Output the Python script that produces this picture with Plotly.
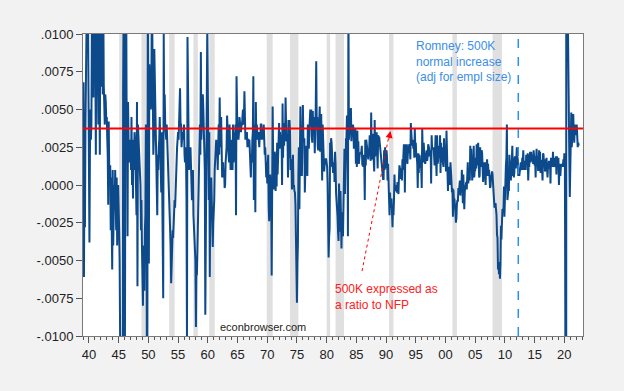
import pandas as pd
import plotly.graph_objects as go

# Monthly log change in nonfarm payroll employment, in ten-thousandths (1e-4)
# 1939 Feb - 1949 Dec
growth_1939_1949 = [
    68, -61, 10, -28, 40, 100, 70, 130, 160, 120, 30,
    17, -38, 20, 50, 30, 40, 110, 150, 120, 58, 130, 90,
    150, 75, 20, 130, 80, 110, 75, 40, 120, 65, 20, 130,
    110, 65, 130, 100, 60, 120, 66, 50, 40, 60, 55, 42,
    45, 30, 20, -13, 42, 10, 0, 13, -30, 5, -20, -56,
    10, -40, -20, 0, -15, 10, -5, -30, 5, -40, -20, 0,
    -10, -30, -50, -80, -150, -200, -110, -500, -400, 60, 120, 80,
    -200, -50, 300, 150, 58, 40, -34, 55, 30, 20, 15, 30,
    25, 10, 45, 0, 20, -9, 30, 10, 35, 30, 20, -5,
    -20, 55, -67, 40, 30, 20, 20, 10, 0, -30, -10, -40,
    -60, -80, -40, -50, -70, -30, -20, 40, 20, -120, -100, 150,
]
growth_1950s = [
    20, -52, 80, 60, 70, 50, 60, 120, 100, 60, 20, 30,
    90, 70, 40, 20, 15, 0, -20, 20, 10, 25, 30, 45,
    20, 30, -5, 35, 5, -15, -75, 100, 45, 60, 40, 30,
    30, 40, 30, 25, 10, 5, -5, -20, -30, -40, -65, -45,
    -50, -30, -35, -25, -20, -10, -15, 0, 10, 20, 25, 30,
    35, 30, 45, 50, 64, 40, 40, 25, 30, 35, 30, 35,
    40, 20, 15, 25, 20, -10, -105, 98, 40, 15, 10, 20,
    15, 25, 10, 5, -10, -5, 10, -20, -30, -35, -40, -50,
    -94, -50, -60, -45, -25, 0, 10, 30, 40, 20, 88, 30,
    40, 50, 60, 50, 40, 30, 10, -86, -20, -30, 70, 105,
]
growth_1960s = [
    66, 12, -10, 35, -61, -10, -20, 5, -15, -10, -41, -25,
    -20, -10, 10, 15, 25, 30, 20, 25, 10, 30, 40, 20,
    58, 30, 25, 45, 20, 5, 10, 15, 5, 10, -2, 0,
    15, 20, 25, 46, 30, 20, 20, 15, 40, 25, 10, 20,
    30, 30, 10, 40, 15, 20, 35, 25, 40, -20, 72, 30,
    30, 40, 30, 35, 45, 40, 40, 35, 40, 40, 45, 50,
    40, 45, 62, 35, 30, 35, 30, 35, 25, 30, 30, 25,
    30, 20, 5, 5, 20, 15, 30, 35, 72, -10, 40, 30,
    -18, 55, 30, 40, 30, 30, 35, 30, 25, 35, 30, 40,
    40, 35, 30, 35, 30, 40, 30, 20, 25, 15, 5, 15,
]
growth_1970s = [
    1, 13, 20, -14, -24, -8, 7, -14, -6, -60, -18, 52,
    18, -3, 4, 22, 20, -4, 10, -1, 28, 7, 28, 24,
    41, 24, 35, 30, 28, 33, 0, 54, 18, 41, 26, 34,
    29, 58, 42, 30, 29, 30, 5, 43, 18, 43, 35, 10,
    11, 17, -3, 13, 20, -1, 0, -4, -5, -13, -51, -70,
    -78, -52, -39, 8, 25, -16, 19, 52, 6, 39, 6, 26,
    53, 31, 29, 31, -5, 10, 26, 15, 26, 6, 40, 26,
    24, 36, 42, 50, 42, 50, 32, 28, 49, 33, 45, 39,
    21, 32, 51, 82, 40, 45, 26, 23, 32, 40, 52, 22,
    26, 47, 33, 3, 40, 28, 20, 9, 14, 17, 17, 17,
]
growth_1980s = [
    14, 12, 1, -20, -48, -34, -29, 28, 12, 31, 28, 20,
    11, 8, 13, 15, 2, 22, 14, -5, -9, -12, -21, -31,
    -37, 1, -15, -31, -4, -27, -42, -18, -30, -34, -13, 1,
    24, -6, 20, 31, 30, 46, 45, -34, 122, 30, 38, 40,
    48, 51, 29, 38, 33, 40, 38, 24, 32, 30, 37, 14,
    28, 12, 36, 21, 29, 14, 19, 21, 21, 21, 22, 26,
    13, 14, 12, 20, 15, -10, 30, 13, 30, 25, 20, 20,
    17, 23, 24, 33, 24, 16, 48, 17, 24, 34, 24, 29,
    9, 43, 19, 24, 22, 35, 22, 11, 33, 27, 32, 28,
    24, 23, 18, 14, 12, 9, 4, 4, 23, 10, 25, 11,
]
growth_1990s = [
    22, 23, 18, 3, 14, 2, -4, -20, -5, -15, -14, -9,
    -15, -28, -14, -20, -10, 7, -4, -3, 0, -3, -5, 2,
    -2, -6, 5, 13, 11, 6, 4, 11, 3, 17, 10, 20,
    27, 23, -5, 27, 23, 15, 27, 14, 21, 24, 25, 27,
    24, 17, 41, 30, 29, 26, 30, 24, 30, 18, 37, 25,
    28, 19, 19, 14, -2, 21, 8, 20, 19, 13, 12, 11,
    -2, 37, 23, 15, 28, 22, 17, 14, 17, 20, 23, 16,
    19, 27, 26, 24, 19, 23, 23, 1, 33, 24, 24, 24,
    25, 20, 13, 22, 33, 16, 6, 33, 14, 16, 22, 26,
    18, 33, 8, 28, 15, 20, 25, 14, 12, 31, 22, 23,
]
growth_2000s = [
    19, 9, 36, 22, 17, -4, 12, 0, 9, 0, 15, 11,
    3, -5, -2, -21, -3, -10, -9, -12, -18, -25, -22, -13,
    -10, -11, -2, -6, -1, 3, -7, -1, -4, 10, 1, -12,
    7, -12, -16, -4, -1, 0, 2, -3, 8, 15, 1, 9,
    11, 3, 26, 19, 24, 6, 3, 9, 12, 26, 5, 10,
    10, 18, 11, 27, 13, 18, 28, 15, 5, 6, 25, 12,
    20, 23, 21, 13, 2, 6, 15, 13, 11, 0, 15, 13,
    17, 6, 14, 6, 10, 5, -2, -1, 6, 6, 9, 7,
    1, -6, -6, -15, -14, -12, -16, -20, -33, -35, -56, -51,
    -59, -53, -62, -52, -27, -36, -25, -16, -17, -15, -1, -21,
]
growth_2010s = [
    1, -5, 13, 18, 40, -10, -5, -3, -4, 20, 9, 7,
    3, 14, 17, 26, 6, 18, 5, 8, 19, 15, 11, 16,
    25, 19, 17, 6, 9, 6, 11, 13, 15, 11, 10, 18,
    14, 23, 10, 14, 16, 11, 10, 20, 14, 14, 21, 3,
    13, 12, 19, 22, 15, 22, 17, 16, 20, 14, 23, 19,
    13, 19, 5, 17, 24, 13, 19, 10, 10, 23, 15, 22,
    8, 16, 16, 11, 3, 21, 20, 12, 17, 9, 11, 11,
    18, 13, 5, 12, 11, 16, 13, 15, 1, 18, 14, 12,
    12, 22, 12, 13, 18, 16, 12, 19, 7, 19, 13, 15,
    18, 0, 10, 14, 6, 12, 13, 14, 14, 12, 17, 12,
]
growth_2020s = [
    21, 19, -91, -1454, 215, 361, 123, 112, 50, 47, 18, -8,
    30, 45, 48, 25, 35, 42, 47, 35, 28, 40, 38, 35,
    33, 40, 27, 25, 28, 26,
]

# NBER recessions (peak month, trough month)
recessions = [
    ("1945-02-01", "1945-10-01"), ("1948-11-01", "1949-10-01"),
    ("1953-07-01", "1954-05-01"), ("1957-08-01", "1958-04-01"),
    ("1960-04-01", "1961-02-01"), ("1969-12-01", "1970-11-01"),
    ("1973-11-01", "1975-03-01"), ("1980-01-01", "1980-07-01"),
    ("1981-07-01", "1982-11-01"), ("1990-07-01", "1991-03-01"),
    ("2001-03-01", "2001-11-01"), ("2007-12-01", "2009-06-01"),
    ("2020-02-01", "2020-04-01"),
]
romney_ratio = 0.00375
romney_date = "2012-04-01"
y_ticks = [-0.01, -0.0075, -0.005, -0.0025, 0.0, 0.0025, 0.005, 0.0075, 0.01]

values = (growth_1939_1949 + growth_1950s + growth_1960s + growth_1970s +
          growth_1980s + growth_1990s + growth_2000s + growth_2010s + growth_2020s)
series = [v / 10000 for v in values]
dates = pd.date_range("1939-02-01", periods=len(series), freq="MS")

fig = go.Figure()
fig.add_trace(go.Scatter(x=dates, y=series, mode="lines",
                         line=dict(color="#0d4a8c", width=2), showlegend=False))

for start, end in recessions:
    end_dt = (pd.Timestamp(end) + pd.offsets.MonthBegin(1)).strftime("%Y-%m-%d")
    fig.add_shape(type="rect", xref="x", yref="paper", x0=start, x1=end_dt,
                  y0=0, y1=1, fillcolor="#e0e0e0", line_width=0, layer="below")

fig.add_shape(type="line", xref="paper", yref="y", x0=0, x1=1,
              y0=romney_ratio, y1=romney_ratio, line=dict(color="#ff0000", width=2))
fig.add_shape(type="line", xref="x", yref="paper", x0=romney_date, x1=romney_date,
              y0=0, y1=1, line=dict(color="#2b8ff0", width=1.5, dash="dash"))

# dotted arrow
fig.add_shape(type="line", xref="paper", yref="paper", x0=0.558, y0=0.215,
              x1=0.613, y1=0.672, line=dict(color="#ff0000", width=1, dash="dot"))
fig.add_annotation(xref="paper", yref="paper", x=0.615, y=0.679, ax=-2, ay=10,
                   text="", showarrow=True, arrowhead=2, arrowsize=1.4,
                   arrowwidth=1, arrowcolor="#ff0000")

fig.add_annotation(xref="paper", yref="paper", x=0.662, y=0.99, xanchor="left",
                   yanchor="top", align="left", showarrow=False,
                   text="Romney: 500K<br>normal increase<br>(adj for empl size)",
                   font=dict(family="Liberation Sans, Arial", size=12, color="#3a8ee8"))
fig.add_annotation(xref="paper", yref="paper", x=0.5, y=0.185, xanchor="left",
                   yanchor="top", align="left", showarrow=False,
                   text="500K expressed as<br>a ratio to NFP",
                   font=dict(family="Liberation Sans, Arial", size=12, color="#ff2020"))
fig.add_annotation(xref="paper", yref="paper", x=0.27, y=0.031, xanchor="left",
                   yanchor="middle", showarrow=False, text="econbrowser.com",
                   font=dict(family="Liberation Sans, Arial", size=11, color="#222222"))

fig.update_xaxes(type="date", range=["1939-01-01", "2023-02-20"],
                 tick0="1940-01-01", dtick="M60", tickformat="%y",
                 ticks="outside", ticklen=6, tickcolor="#555555",
                 minor=dict(ticks="outside", dtick="M12", tick0="1940-01-01",
                            ticklen=3, tickcolor="#555555"),
                 showline=True, linecolor="#7a7a7a", linewidth=1, mirror=True,
                 showgrid=False, zeroline=False,
                 tickfont=dict(family="Liberation Sans, Arial", size=13, color="#222222"))
fig.update_yaxes(range=[-0.01, 0.01], tickmode="array", tickvals=y_ticks,
                 ticktext=[f"{v:.4f}".replace("0.", ".", 1) for v in y_ticks],
                 ticks="outside", ticklen=6, tickcolor="#555555",
                 showline=True, linecolor="#7a7a7a", linewidth=1, mirror=True,
                 showgrid=False, zeroline=False,
                 tickfont=dict(family="Liberation Sans, Arial", size=13, color="#222222"))

fig.update_layout(width=624, height=391, margin=dict(l=83, r=41, t=34, b=55),
                  paper_bgcolor="#f2f2f2", plot_bgcolor="#ffffff")
fig.write_html("out.html", config={"displayModeBar": False},
               post_script="document.body.style.margin='0px';"
                           "document.body.style.background='#f2f2f2';")
